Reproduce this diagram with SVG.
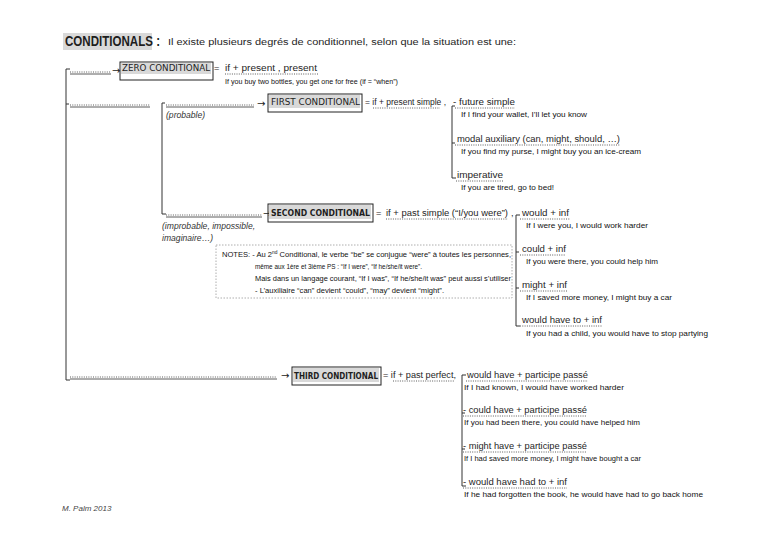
<svg xmlns="http://www.w3.org/2000/svg" width="768" height="543" viewBox="0 0 768 543">
<style>
text{font-family:"Liberation Sans",Arial,sans-serif;fill:#1e1e1e}
.h{font-size:9.2px}
.ex{font-size:7.8px;fill:#111}
.bx{font-family:"DejaVu Sans",Verdana,sans-serif;font-size:8px}
.bb{font-family:"DejaVu Sans",Verdana,sans-serif;font-size:8px;font-weight:bold}
.it{font-style:italic;font-size:8.6px;fill:#333}
.ar{font-family:"DejaVu Sans",sans-serif;font-size:10px;fill:#222}
.box{fill:none;stroke:#222;stroke-width:1}
.hl{fill:#d9d9d9}
.dot{stroke:#333;stroke-width:0.8;stroke-dasharray:1 1.3;fill:none}
.ul{stroke:#333;stroke-width:0.8;fill:none}
.ln{stroke:#333;stroke-width:1;fill:none}
.nb{fill:none;stroke:#999;stroke-width:0.8;stroke-dasharray:1.5 1.5}
</style>
<rect width="768" height="543" fill="#fff"/>

<g id="title">
<rect class="hl" x="63" y="33" width="89" height="17"/>
<text x="65" y="46" style="font-size:14px;font-weight:bold" textLength="95" lengthAdjust="spacingAndGlyphs">CONDITIONALS :</text>
<text x="168" y="45" style="font-size:8.4px" textLength="348" lengthAdjust="spacingAndGlyphs">Il existe plusieurs degrés de conditionnel, selon que la situation est une:</text>
</g>

<g id="connectors">
<path class="ln" d="M70,69 H66 V380 H70 M66,104 H69"/>
<path class="ln" d="M165,103 H162 V214 H166"/>
<path class="ln" d="M455,106 H452 V178 H456 M452,143 H455"/>
<path class="ln" d="M520,215 H516 V326 H520 M516,252 H519 M516,288 H519"/>
<path class="ln" d="M466,375 H462 V486 H466 M462,413 H465 M462,449 H465"/>
<line class="dot" x1="70" y1="72" x2="111" y2="72"/><line class="ul" x1="70" y1="74" x2="111" y2="74"/>
<text class="ar" x="112" y="74">→</text>
<line class="dot" x1="70" y1="105" x2="150" y2="105"/><line class="ul" x1="70" y1="107" x2="150" y2="107"/>
<line class="dot" x1="166" y1="105" x2="254" y2="105"/><line class="ul" x1="166" y1="107" x2="254" y2="107"/>
<text class="ar" x="257" y="107">→</text>
<line class="dot" x1="166" y1="215" x2="262" y2="215"/><line class="ul" x1="166" y1="217" x2="262" y2="217"/>
<text class="ar" x="263" y="217">→</text>
<line class="dot" x1="70" y1="377" x2="277" y2="377"/><line class="ul" x1="70" y1="379" x2="277" y2="379"/>
<text class="ar" x="281" y="379">→</text>
</g>

<g id="zero">
<rect class="hl" x="121" y="63" width="90" height="11"/>
<rect class="box" x="120" y="62" width="93" height="18"/>
<text class="bx" x="122" y="71" textLength="88" lengthAdjust="spacingAndGlyphs">ZERO CONDITIONAL</text>
<text class="h" x="214" y="71">=</text>
<text class="h" x="225" y="71" textLength="92" lengthAdjust="spacingAndGlyphs">if + present  ,  present</text>
<line class="dot" x1="225" y1="74" x2="318" y2="74"/>
<text class="ex" x="225" y="84" textLength="173" lengthAdjust="spacingAndGlyphs">If you buy two bottles, you get one for free (if = “when”)</text>
</g>

<g id="first">
<rect class="hl" x="269" y="95" width="91" height="13"/>
<rect class="box" x="268" y="94" width="94" height="18"/>
<text class="bx" x="271" y="105" textLength="89" lengthAdjust="spacingAndGlyphs">FIRST CONDITIONAL</text>
<text class="it" x="166" y="118">(probable)</text>
<text class="h" x="365" y="105" textLength="81" lengthAdjust="spacingAndGlyphs">= if + present simple ,</text>
<line class="dot" x1="373" y1="108" x2="440" y2="108"/>
<text class="h" x="453" y="105" textLength="62" lengthAdjust="spacingAndGlyphs">- future simple</text>
<line class="dot" x1="455" y1="108" x2="515" y2="108"/>
<text class="ex" x="461" y="117" textLength="126" lengthAdjust="spacingAndGlyphs">If I find your wallet, I’ll let you know</text>
<text class="h" x="457" y="142" textLength="163" lengthAdjust="spacingAndGlyphs">modal auxiliary (can, might, should, …)</text>
<line class="dot" x1="455" y1="145" x2="620" y2="145"/>
<text class="ex" x="461" y="154" textLength="180" lengthAdjust="spacingAndGlyphs">If you find my purse, I might buy you an ice-cream</text>
<text class="h" x="457" y="178" textLength="46" lengthAdjust="spacingAndGlyphs">imperative</text>
<line class="dot" x1="456" y1="181" x2="503" y2="181"/>
<text class="ex" x="461" y="190" textLength="93" lengthAdjust="spacingAndGlyphs">If you are tired, go to bed!</text>
</g>

<g id="second">
<rect class="hl" x="269" y="205" width="102" height="14"/>
<rect class="box" x="268" y="204" width="105" height="18"/>
<text class="bb" x="271" y="216" textLength="99" lengthAdjust="spacingAndGlyphs">SECOND CONDITIONAL</text>
<text class="it" x="162" y="229">(improbable, impossible,</text>
<text class="it" x="162" y="241">imaginaire…)</text>
<text class="h" x="376" y="216">=</text>
<text class="h" x="386" y="216" textLength="122" lengthAdjust="spacingAndGlyphs">if + past simple (“I/you were”)</text>
<line class="dot" x1="386" y1="219" x2="508" y2="219"/>
<text class="h" x="511" y="216">,</text>
<text class="h" x="522" y="216" textLength="47" lengthAdjust="spacingAndGlyphs">would + inf</text>
<line class="dot" x1="520" y1="219" x2="570" y2="219"/>
<text class="ex" x="526" y="228" textLength="122" lengthAdjust="spacingAndGlyphs">If I were you, I would work harder</text>
<text class="h" x="522" y="252" textLength="44" lengthAdjust="spacingAndGlyphs">could + inf</text>
<line class="dot" x1="520" y1="255" x2="566" y2="255"/>
<text class="ex" x="526" y="264" textLength="132" lengthAdjust="spacingAndGlyphs">If you were there, you could help him</text>
<text class="h" x="522" y="288" textLength="45" lengthAdjust="spacingAndGlyphs">might + inf</text>
<line class="dot" x1="520" y1="291" x2="567" y2="291"/>
<text class="ex" x="526" y="300" textLength="146" lengthAdjust="spacingAndGlyphs">If I saved more money, I might buy a car</text>
<text class="h" x="522" y="323" textLength="80" lengthAdjust="spacingAndGlyphs">would have to + inf</text>
<line class="dot" x1="520" y1="326" x2="602" y2="326"/>
<text class="ex" x="526" y="336" textLength="182" lengthAdjust="spacingAndGlyphs">If you had a child, you would have to stop partying</text>
</g>

<g id="notes">
<rect class="nb" x="216" y="245" width="296" height="53"/>
<text class="ex" x="222" y="257" textLength="289" lengthAdjust="spacingAndGlyphs">NOTES: - Au 2<tspan style="font-size:5px" dy="-3">nd</tspan><tspan dy="3"> Conditional, le verbe “be” se conjugue “were” à toutes les personnes,</tspan></text>
<text class="ex" x="255" y="269" textLength="167" lengthAdjust="spacingAndGlyphs">même aux 1ère et 3ième PS : “If I were”, “If he/she/it were”.</text>
<text class="ex" x="255" y="281" textLength="256" lengthAdjust="spacingAndGlyphs">Mais dans un langage courant, “If I was”, “If he/she/it was” peut aussi s’utiliser</text>
<text class="ex" x="255" y="293" textLength="189" lengthAdjust="spacingAndGlyphs">- L’auxiliaire “can” devient “could”, “may” devient “might”.</text>
</g>

<g id="third">
<rect class="hl" x="293" y="368" width="86" height="14"/>
<rect class="box" x="292" y="367" width="89" height="18"/>
<text class="bb" x="294" y="379" textLength="84" lengthAdjust="spacingAndGlyphs">THIRD CONDITIONAL</text>
<text class="h" x="383" y="378" textLength="73" lengthAdjust="spacingAndGlyphs">=  if + past perfect,</text>
<line class="dot" x1="393" y1="381" x2="455" y2="381"/>
<text class="h" x="467" y="378" textLength="121" lengthAdjust="spacingAndGlyphs">would have + participe passé</text>
<line class="dot" x1="466" y1="381" x2="588" y2="381"/>
<text class="ex" x="464" y="390" textLength="160" lengthAdjust="spacingAndGlyphs">If I had known, I would have worked harder</text>
<text class="h" x="463" y="413" textLength="124" lengthAdjust="spacingAndGlyphs">- could have + participe passé</text>
<line class="dot" x1="463" y1="416" x2="587" y2="416"/>
<text class="ex" x="464" y="425" textLength="176" lengthAdjust="spacingAndGlyphs">If you had been there, you could have helped him</text>
<text class="h" x="463" y="449" textLength="124" lengthAdjust="spacingAndGlyphs">- might have + participe passé</text>
<line class="dot" x1="463" y1="452" x2="587" y2="452"/>
<text class="ex" x="464" y="461" textLength="177" lengthAdjust="spacingAndGlyphs">If I had saved more money, I might have bought a car</text>
<text class="h" x="463" y="485" textLength="104" lengthAdjust="spacingAndGlyphs">- would have had to + inf</text>
<line class="dot" x1="463" y1="488" x2="567" y2="488"/>
<text class="ex" x="464" y="497" textLength="239" lengthAdjust="spacingAndGlyphs">If he had forgotten the book, he would have had to go back home</text>
</g>

<g id="footer">
<text x="62" y="511" style="font-size:8px;font-style:italic;fill:#444">M. Palm 2013</text>
</g>
</svg>
